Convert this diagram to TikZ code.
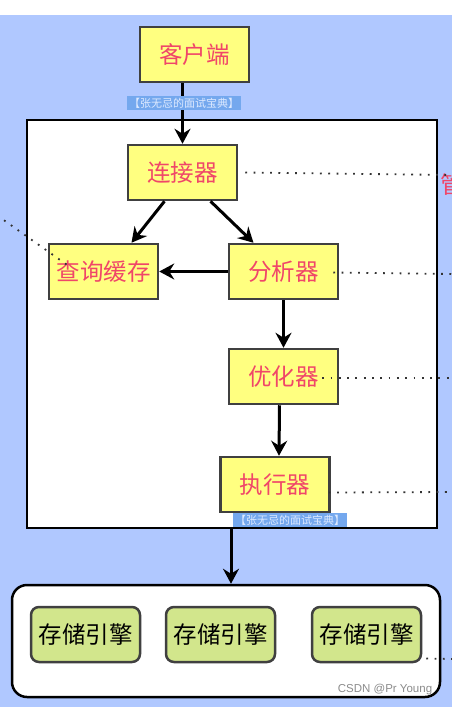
\documentclass[tikz,border=0pt]{standalone}
\usepackage{fontspec}
\newfontfamily\cjk{Noto Sans CJK SC}
\setsansfont{Liberation Sans}
\usetikzlibrary{positioning,arrows.meta}

\definecolor{bgblue}{RGB}{176,200,255}
\definecolor{boxyellow}{RGB}{255,255,128}
\definecolor{boxgreen}{RGB}{210,230,140}
\definecolor{boxborder}{RGB}{64,64,64}
\definecolor{labelred}{RGB}{240,70,105}
\definecolor{tagblue}{RGB}{116,168,238}
\definecolor{tagtext}{RGB}{222,234,255}

\tikzset{
  module/.style={rectangle, draw=boxborder, line width=2.5pt, fill=boxyellow,
    minimum width=109pt, minimum height=55pt, inner sep=0pt,
    font=\cjk\fontsize{23.5}{23.5}\selectfont, text=labelred},
  engine/.style={module, rounded corners=8pt, fill=boxgreen, text=black},
  frame/.style={rectangle, draw=black, line width=2.5pt, fill=white, inner sep=0pt},
  tag/.style={fill=tagblue, text=tagtext, inner xsep=2pt, inner ysep=1.5pt,
    font=\cjk\fontsize{11}{11}\selectfont},
  flow/.style={-{Stealth[length=15pt,width=16pt,inset=5pt]}, line width=3pt},
  hint/.style={draw=black!80, line width=1.8pt, dash pattern=on 1.8pt off 6.5pt}
}

\begin{document}
\begin{tikzpicture}[x=1pt, y=-1pt]
\useasboundingbox (0,0) rectangle (452,707);
\fill[white] (0,0) rectangle (452,707);
\fill[bgblue] (0,15) rectangle (452,707);

%% Nodes definition
\node[frame, minimum width=410pt, minimum height=408pt] (server) at (232,324) {};
\node[module] (client) at (194.5,54.5) {客户端};
\node[module, below = 60.5pt of client, xshift=-12pt] (conn) {连接器};
\node[module, below = 41.5pt of conn, xshift=-79pt] (cache) {查询缓存};
\node[module, right = 68.5pt of cache] (parser) {分析器};
\node[module, below = 47.5pt of parser] (optim) {优化器};
\node[module, below = 50.5pt of optim, xshift=-8.5pt] (exec) {执行器};
\node[frame, rounded corners=15pt, minimum width=428pt, minimum height=112pt,
  below = 54.5pt of server, xshift=-6pt] (storage) {};
\node[engine] (eng_a) at (85.5,634.5) {存储引擎};
\node[engine, right = 23.5pt of eng_a] (eng_b) {存储引擎};
\node[engine, right = 34.5pt of eng_b] (eng_c) {存储引擎};
\node[anchor=west, text=labelred, font=\cjk\fontsize{23.5}{23.5}\selectfont, inner sep=0pt] (mgr) at (440,185) {管};

%% Edges definition
\path[every edge/.append style={flow}]
    (client.south -| conn.north) edge (conn.north)
    ([xshift=-18pt]conn.south) edge ([xshift=28pt]cache.north)
    ([xshift=28pt]conn.south) edge ([xshift=-30pt]parser.north)
    (parser.west) edge (cache.east)
    (parser) edge (optim)
    ([xshift=-4pt]optim.south) edge ([xshift=4pt]exec.north)
    ([xshift=-1pt]server.south) edge ([xshift=5pt]storage.north)
    ;

%% Dotted hints
\coordinate (conn_end) at (452,175);
\coordinate (cache_end) at (-2,216);
\coordinate (parser_end) at (452,274);
\coordinate (optim_end) at (452,378);
\coordinate (exec_end) at (452,492);
\coordinate (eng_end) at (452,659);
\draw[hint] ([xshift=7pt]conn.east) -- (conn_end);
\draw[hint] ([xshift=-37pt,yshift=7pt]cache.center) -- (cache_end);
\draw[hint] ([xshift=-6pt,yshift=-1pt]parser.east) -- (parser_end);
\draw[hint] ([xshift=-17pt,yshift=-1.5pt]optim.east) -- (optim_end);
\draw[hint] ([xshift=-2pt,yshift=-8pt]exec.east) -- (exec_end);
\draw[hint] ([xshift=4pt,yshift=-24pt]eng_c.east) -- (eng_end);

%% Watermarks
\node[tag] (tag_top) at (184,103) {【张无忌的面试宝典】};
\node[tag] (tag_bottom) at (290,520) {【张无忌的面试宝典】};
\node[text=black!45, font=\sffamily\fontsize{11.5}{11.5}\selectfont] (credit) at (385,690) {CSDN @Pr Young};
\end{tikzpicture}
\end{document}
